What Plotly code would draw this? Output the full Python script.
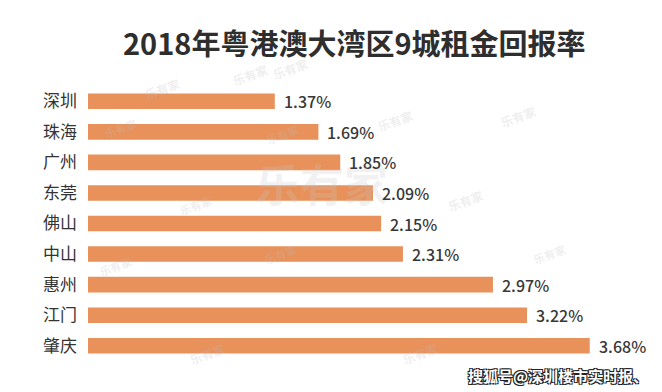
import plotly.graph_objects as go

cities = ["深圳", "珠海", "广州", "东莞", "佛山", "中山", "惠州", "江门", "肇庆"]
rates = [1.37, 1.69, 1.85, 2.09, 2.15, 2.31, 2.97, 3.22, 3.68]
title_text = "2018年粤港澳大湾区9城租金回报率"
source_text = "搜狐号@深圳楼市实时报、"
watermark = "乐有家"

FONT = "Noto Sans CJK SC"
BAR = "#E8915A"

W, H = 662, 392
ML, MR, MT, MB = 88, 0, 86, 31
PW, PH = W - ML - MR, H - MT - MB


def px(x):
    return (x - ML) / PW


def py(y):
    return (H - MB - y) / PH


fig = go.Figure()
fig.add_trace(go.Bar(
    x=rates, y=cities, orientation="h",
    marker=dict(color=BAR, line=dict(width=0)),
    width=0.51, hoverinfo="skip",
))

annotations = []

# faint watermarks
wm_pos = [(140, 72, 12), (228, 58, 12), (290, 52, 12), (100, 112, 11), (262, 118, 11),
          (395, 104, 12), (540, 100, 12), (175, 205, 11), (465, 200, 12),
          (95, 282, 11), (260, 270, 11), (570, 270, 11), (185, 370, 12), (420, 370, 12)]
for x0, y0, s in wm_pos:
    annotations.append(dict(
        x=px(x0), y=py(y0), xref="paper", yref="paper", text=watermark,
        showarrow=False, textangle=-20,
        font=dict(family=FONT, size=s, color="rgba(190,190,190,0.25)", weight=700),
    ))
annotations.append(dict(
    x=px(322), y=py(183), xref="paper", yref="paper", text=watermark,
    showarrow=False, textangle=0,
    font=dict(family=FONT, size=44, color="rgba(200,200,200,0.25)", weight=700),
))

for c, v in zip(cities, rates):
    annotations.append(dict(
        x=v, y=c, xref="x", yref="y", text=f"{v:.2f}%",
        showarrow=False, xanchor="left", yanchor="middle", xshift=7,
        font=dict(family=FONT, size=16, color="#383838", weight=500),
    ))

annotations.append(dict(
    x=px(354), y=py(42), xref="paper", yref="paper", text=title_text,
    showarrow=False, xanchor="center", yanchor="middle",
    font=dict(family=FONT, size=29, color="#2e2e2e", weight=700),
))
annotations.append(dict(
    x=px(650), y=py(375), xref="paper", yref="paper", text=source_text,
    showarrow=False, xanchor="right", yanchor="middle",
    font=dict(family=FONT, size=15, color="#ffffff", weight=700,
              shadow="1px 1px 0 #222, -1px -1px 0 #222, 1px -1px 0 #222, -1px 1px 0 #222"),
))

fig.update_layout(
    width=W, height=H,
    margin=dict(l=ML, r=MR, t=MT, b=MB),
    paper_bgcolor="white", plot_bgcolor="white",
    showlegend=False,
    xaxis=dict(range=[0, 4.21], visible=False, fixedrange=True),
    yaxis=dict(autorange="reversed", showgrid=False, zeroline=False, showline=False,
               ticks="", ticklabelstandoff=10,
               tickfont=dict(family=FONT, size=17, color="#333333")),
    annotations=annotations,
    font=dict(family=FONT),
)

fig.write_html("out.html")
